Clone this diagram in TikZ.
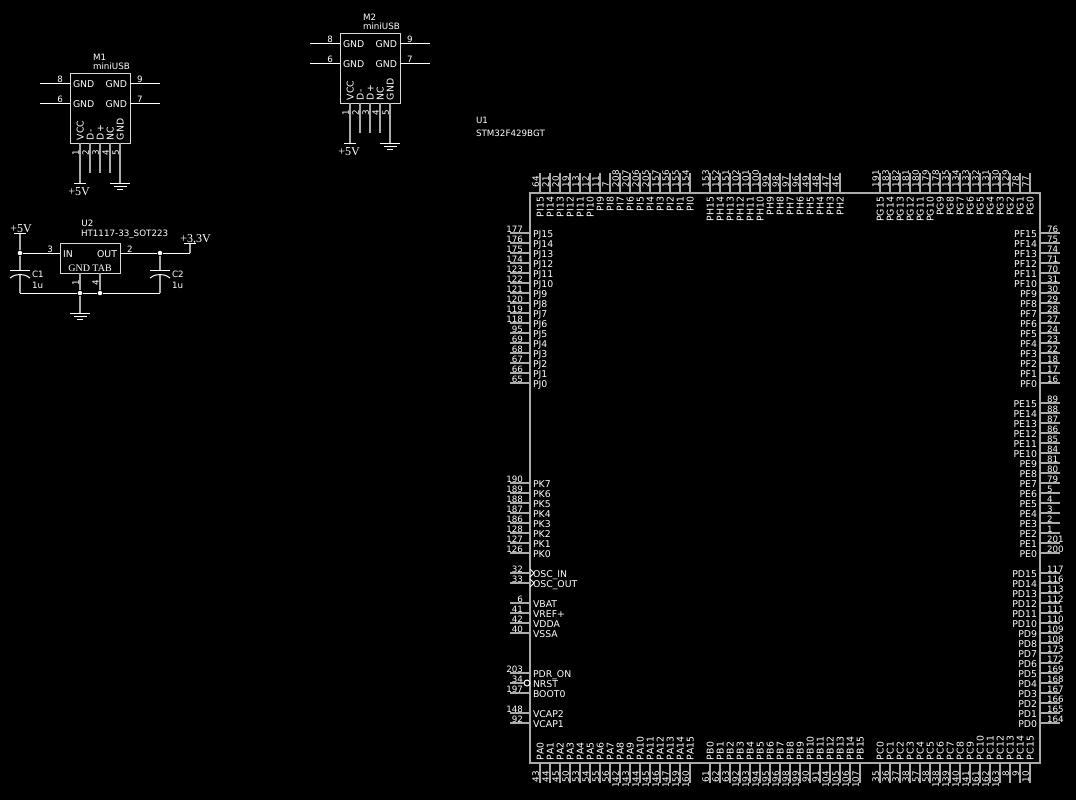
\documentclass[tikz,border=0pt]{standalone}
\usepackage{fontspec}
\setmainfont{DejaVu Sans}
\newfontfamily\serifpart{Liberation Serif}
\newcommand{\txtfont}{\fontsize{6.55}{8}\selectfont}
\newcommand{\pinfont}{\fontsize{7}{8}\selectfont}
\definecolor{soft}{HTML}{ABABAB}
\newcommand{\pinrowL}[3]{\foreach \lab/\num [count=\i from 0] in {#3} {
  \pgfmathsetmacro{\py}{#2+10*\i}
  \coordinate (#1a\num) at (530,\py); \coordinate (#1b\num) at (510,\py);
  \draw[wirev] (#1a\num) -- (#1b\num);
  \node[plbl,anchor=base west] (#1l\num) at (533,\py+4) {\lab};
  \node[lbl,anchor=base east] (#1n\num) at (523,\py-1) {\num};}}
\newcommand{\pinrowR}[3]{\foreach \lab/\num [count=\i from 0] in {#3} {
  \pgfmathsetmacro{\py}{#2+10*\i}
  \coordinate (#1a\num) at (1040,\py); \coordinate (#1b\num) at (1060,\py);
  \draw[wirev] (#1a\num) -- (#1b\num);
  \node[plbl,anchor=base east] (#1l\num) at (1037,\py+4) {\lab};
  \node[lbl,anchor=base west] (#1n\num) at (1047,\py-1) {\num};}}
\newcommand{\pinrowT}[3]{\foreach \lab/\num [count=\i from 0] in {#3} {
  \pgfmathsetmacro{\px}{#2+10*\i}
  \coordinate (#1a\num) at (\px,193); \coordinate (#1b\num) at (\px,173);
  \draw[wirev] (#1a\num) -- (#1b\num);
  \node[plbl,rotate=90,anchor=base east] (#1l\num) at (\px+3.5,197) {\lab};
  \node[lbl,rotate=90,anchor=base west] (#1n\num) at (\px-1.2,187) {\num};}}
\newcommand{\pinrowB}[3]{\foreach \lab/\num [count=\i from 0] in {#3} {
  \pgfmathsetmacro{\px}{#2+10*\i}
  \coordinate (#1a\num) at (\px,763); \coordinate (#1b\num) at (\px,783);
  \draw[wirev] (#1a\num) -- (#1b\num);
  \node[plbl,rotate=90,anchor=base west] (#1l\num) at (\px+3.5,760) {\lab};
  \node[lbl,rotate=90,anchor=base east] (#1n\num) at (\px-1.2,771) {\num};}}
\newcommand{\groundsym}[2]{
  \draw[wire] (#1-10,#2) -- (#1+10,#2) (#1-6.5,#2+3) -- (#1+6.5,#2+3) (#1-3,#2+6) -- (#1+3,#2+6);}
\newcommand{\usbpart}[4]{\begin{scope}[shift={(#3,#4)}]
  \node[box,minimum width=45pt,minimum height=52.5pt] (#1) at (100,108) {};
  \node[lbl,anchor=base west] (#1ref) at (93,60) {#1};
  \node[lbl,anchor=base west] (#1val) at (93,69) {#2};
  \foreach \nm/\yy/\lnum in {a/83/8,b/103/6} {
    \coordinate (#1\nm i) at (70,\yy); \coordinate (#1\nm o) at (40,\yy);
    \draw[wire] (#1\nm i) -- (#1\nm o);
    \node[plbl,anchor=base west] (#1\nm t) at (73,\yy+4) {GND};
    \node[lbl,anchor=base east] (#1\nm n) at (63,\yy-1) {\lnum};}
  \foreach \nm/\yy/\lnum in {c/83/9,d/103/7} {
    \coordinate (#1\nm i) at (130,\yy); \coordinate (#1\nm o) at (160,\yy);
    \draw[wire] (#1\nm i) -- (#1\nm o);
    \node[plbl,anchor=base east] (#1\nm t) at (127,\yy+4) {GND};
    \node[lbl,anchor=base west] (#1\nm n) at (137,\yy-1) {\lnum};}
  \foreach \lab/\xx/\lnum/\en in {VCC/80/1/183,D-/90/2/173,D+/100/3/173,NC/110/4/173,GND/120/5/183} {
    \coordinate (#1p\lnum i) at (\xx,143); \coordinate (#1p\lnum o) at (\xx,\en);
    \draw[wirev] (#1p\lnum i) -- (#1p\lnum o);
    \node[plbl,rotate=90,anchor=base west] (#1p\lnum t) at (\xx+3.5,140) {\lab};
    \node[lbl,rotate=90,anchor=base east] (#1p\lnum n) at (\xx-1.2,150) {\lnum};}
  \draw[wire] (74,183) -- (86,183);
  \node[pwr,anchor=base west] (#1pwr) at (68,195) {+5V};
  \groundsym{120}{183}
\end{scope}}
\begin{document}
\begin{tikzpicture}[x=0.75pt,y=-0.75pt,
  wire/.style={draw=white,line width=0.75pt},
  wirev/.style={draw=soft,line width=1.05pt},
  box/.style={draw=white!85!black,line width=0.75pt,fill=none,inner sep=0pt},
  chip/.style={draw=soft,line width=1.05pt,fill=none,inner sep=0pt},
  lbl/.style={text=white,font=\txtfont,inner sep=0pt,outer sep=0pt},
  plbl/.style={text=white,font=\pinfont,inner sep=0pt,outer sep=0pt},
  pwr/.style={text=white,font=\serifpart\fontsize{9}{10}\selectfont,inner sep=0pt},
  dot/.style={circle,fill=white,inner sep=0pt,minimum size=3.4pt}]
\fill[black] (0,0) rectangle (1076,800);
\useasboundingbox (0,0) rectangle (1076,800);

\usbpart{M1}{miniUSB}{0}{0}
\usbpart{M2}{miniUSB}{270}{-40}

% U2 regulator
\node[box,minimum width=45pt,minimum height=22.5pt] (U2) at (90,258) {};
\node[lbl,anchor=base west] (U2ref) at (81.5,226) {U2};
\node[lbl,anchor=base west] (U2val) at (81,236) {HT1117-33\_SOT223};
\node[plbl,anchor=base west] (U2in) at (63,257) {IN};
\node[plbl,anchor=base east] (U2out) at (117,257) {OUT};
\node[text=white,font=\serifpart\fontsize{7.5}{9}\selectfont,inner sep=0pt,anchor=base] (U2gt) at (90,271) {GND TAB};
\node[lbl,anchor=base east] (U2n3) at (53,252) {3};
\node[lbl,anchor=base west] (U2n2) at (127,252) {2};
\node[lbl,rotate=90,anchor=base east] (U2n1) at (78.8,280) {1};
\node[lbl,rotate=90,anchor=base east] (U2n4) at (98.8,280) {4};
\node[dot] (j1) at (20,253) {};
\node[dot] (j2) at (160,253) {};
\node[dot] (j3) at (80,293) {};
\node[dot] (j4) at (100,293) {};
\coordinate (U2i) at (60,253);
\coordinate (U2o) at (120,253);
\coordinate (U2p1) at (80,273);
\coordinate (U2p4) at (100,273);
\coordinate (p5) at (20,233);
\coordinate (p33) at (190,243);
\coordinate (p33c) at (190,253);
\coordinate (c1t) at (20,270);
\coordinate (c1b) at (20,274.5);
\coordinate (c2t) at (160,270);
\coordinate (c2b) at (160,274.5);
\coordinate (gnd1) at (80,313);
\coordinate (bl) at (20,293);
\coordinate (br) at (160,293);
\draw[wire] (j1) -- (U2i);
\draw[wire] (U2o) -- (j2);
\draw[wire] (j2) -- (p33c);
\draw[wirev] (p33c) -- (p33);
\draw[wirev] (p5) -- (j1);
\draw[wirev] (j1) -- (c1t);
\draw[wirev] (j2) -- (c2t);
\draw[wirev] (c1b) -- (bl);
\draw[wire] (bl) -- (j3);
\draw[wire] (j3) -- (j4);
\draw[wire] (j4) -- (br);
\draw[wirev] (br) -- (c2b);
\draw[wirev] (U2p1) -- (j3);
\draw[wirev] (U2p4) -- (j4);
\draw[wirev] (j3) -- (gnd1);
\draw[wire] (14,233) -- (26,233) (184,243) -- (196,243);
\draw[wire] (10,270) -- (30,270) (150,270) -- (170,270);
\draw[wire] (10,278) .. controls (14,275) and (17,274.5) .. (20,274.5) .. controls (23,274.5) and (26,275) .. (30,278);
\draw[wire] (150,278) .. controls (154,275) and (157,274.5) .. (160,274.5) .. controls (163,274.5) and (166,275) .. (170,278);
\groundsym{80}{313}
\node[pwr,anchor=base west] (pw5) at (10,232) {+5V};
\node[pwr,anchor=base west] (pw33) at (180,242) {+3,3V};
\node[lbl,anchor=base west] (C1ref) at (32,277) {C1};
\node[lbl,anchor=base west] (C1val) at (32,288) {1u};
\node[lbl,anchor=base west] (C2ref) at (172,277) {C2};
\node[lbl,anchor=base west] (C2val) at (172,288) {1u};

% U1 MCU
\node[chip,minimum width=382.5pt,minimum height=427.5pt] (U1) at (785,478) {};
\node[lbl,anchor=base west] (U1ref) at (476,123.3) {U1};
\node[lbl,anchor=base west] (U1val) at (476,136.3) {STM32F429BGT};

\pinrowT{U1}{540}{PI15/64,PI14/21,PI13/20,PI12/19,PI11/13,PI10/12,PI9/11,PI8/7,PI7/208,PI6/207,PI5/206,PI4/205,PI3/157,PI2/156,PI1/155,PI0/154}
\pinrowT{U1}{710}{PH15/153,PH14/152,PH13/151,PH12/102,PH11/101,PH10/100,PH9/99,PH8/98,PH7/97,PH6/96,PH5/49,PH4/48,PH3/47,PH2/46}
\pinrowT{U1}{880}{PG15/191,PG14/183,PG13/182,PG12/181,PG11/180,PG10/179,PG9/178,PG8/135,PG7/134,PG6/133,PG5/132,PG4/131,PG3/130,PG2/129,PG1/78,PG0/77}
\pinrowB{U1}{540}{PA0/43,PA1/44,PA2/45,PA3/50,PA4/53,PA5/54,PA6/55,PA7/56,PA8/142,PA9/143,PA10/144,PA11/145,PA12/146,PA13/147,PA14/159,PA15/160}
\pinrowB{U1}{710}{PB0/61,PB1/62,PB2/63,PB3/192,PB4/193,PB5/194,PB6/195,PB7/196,PB8/198,PB9/199,PB10/90,PB11/91,PB12/104,PB13/105,PB14/106,PB15/107}
\pinrowB{U1}{880}{PC0/35,PC1/36,PC2/37,PC3/38,PC4/57,PC5/58,PC6/138,PC7/139,PC8/140,PC9/141,PC10/161,PC11/162,PC12/163,PC13/8,PC14/9,PC15/10}
\pinrowL{U1}{233}{PJ15/177,PJ14/176,PJ13/175,PJ12/174,PJ11/123,PJ10/122,PJ9/121,PJ8/120,PJ7/119,PJ6/118,PJ5/95,PJ4/69,PJ3/68,PJ2/67,PJ1/66,PJ0/65}
\pinrowL{U1}{483}{PK7/190,PK6/189,PK5/188,PK4/187,PK3/186,PK2/128,PK1/127,PK0/126}
\pinrowL{U1}{573}{OSC\_IN/32,OSC\_OUT/33}
\pinrowL{U1}{603}{VBAT/6,VREF+/41,VDDA/42,VSSA/40}
\pinrowL{U1}{673}{PDR\_ON/203}
\pinrowL{U1}{693}{BOOT0/197}
\pinrowL{U1}{713}{VCAP2/148,VCAP1/92}
\pinrowR{U1}{233}{PF15/76,PF14/75,PF13/74,PF12/71,PF11/70,PF10/31,PF9/30,PF8/29,PF7/28,PF6/27,PF5/24,PF4/23,PF3/22,PF2/18,PF1/17,PF0/16}
\pinrowR{U1}{403}{PE15/89,PE14/88,PE13/87,PE12/86,PE11/85,PE10/84,PE9/81,PE8/80,PE7/79,PE6/5,PE5/4,PE4/3,PE3/2,PE2/1,PE1/201,PE0/200}
\pinrowR{U1}{573}{PD15/117,PD14/116,PD13/113,PD12/112,PD11/111,PD10/110,PD9/109,PD8/108,PD7/173,PD6/172,PD5/169,PD4/168,PD3/167,PD2/166,PD1/165,PD0/164}
% NRST, inverted
\node[circle,draw=white,line width=0.75pt,inner sep=0pt,minimum size=4.5pt] (nrstbub) at (527,683) {};
\coordinate (nrstend) at (510,683);
\draw[wirev] (nrstbub) -- (nrstend);
\node[plbl,anchor=base west] (U1lNRST) at (533,687) {NRST};
\node[lbl,anchor=base east] (U1n34) at (523,682) {34};
% clock marks
\draw[wire] (530,569) -- (534,573) -- (530,577);
\draw[wire] (530,579) -- (534,583) -- (530,587);
\end{tikzpicture}
\end{document}
